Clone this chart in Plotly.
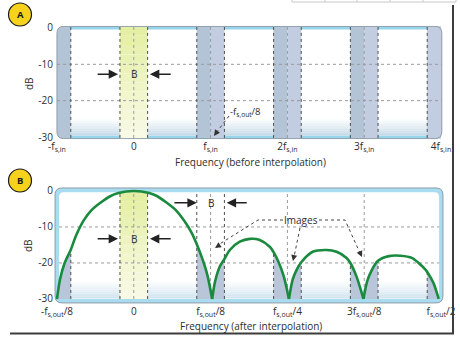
import plotly.graph_objects as go

W, H = 460, 339

# ---------------- data ----------------
db_tick_vals = [0, -10, -20, -30]
db_tick_text = ["0", "-10", "-20", "-30"]
freq_tick_vals = [-1, 0, 1, 2, 3, 4]
freq_in_labels = ["-f<sub>s,in</sub>", "0", "f<sub>s,in</sub>", "2f<sub>s,in</sub>",
                  "3f<sub>s,in</sub>", "4f<sub>s,in</sub>"]
freq_out_labels = ["-f<sub>s,out</sub>/8", "0", "f<sub>s,out</sub>/8", "f<sub>s,out</sub>/4",
                   "3f<sub>s,out</sub>/8", "f<sub>s,out</sub>/2"]
signal_center = 0
image_centers = [-1, 1, 2, 3, 4]
half_bw = 0.18

main_x = [-1.0, -0.96, -0.9, -0.82, -0.75, -0.65, -0.55, -0.43, -0.3, -0.2, -0.1, 0.0,
          0.1, 0.2, 0.3, 0.43, 0.55, 0.65, 0.75, 0.82, 0.9, 0.96, 1.02]
main_db = [-30, -24.5, -20.0, -16.3, -12.3, -8.1, -5.3, -3.2, -1.4, -0.6, -0.15, 0.0,
           -0.15, -0.6, -1.4, -3.3, -5.4, -8.1, -11.5, -14.8, -19.3, -23.5, -30]
side1_x = [1.02, 1.06, 1.12, 1.18, 1.25, 1.38, 1.51, 1.64, 1.77, 1.82, 1.88, 1.95, 2.02]
side1_db = [-30, -25, -21, -18.9, -16.4, -14.1, -13.3, -13.6, -15.5, -17.0, -19.5, -23.5, -30]
side2_x = [2.02, 2.07, 2.12, 2.18, 2.33, 2.51, 2.64, 2.77, 2.82, 2.9, 2.99]
side2_db = [-30, -24.5, -21.9, -19.8, -16.9, -16.4, -16.9, -18.6, -20.0, -23.8, -30]
side3_x = [2.99, 3.04, 3.1, 3.18, 3.32, 3.47, 3.62, 3.8, 3.82, 3.9, 3.97]
side3_db = [-30, -25, -21.9, -19.4, -18.1, -18.0, -18.6, -21.9, -22.5, -25.5, -30]

lobes = [(main_x, main_db), (side1_x, side1_db), (side2_x, side2_db), (side3_x, side3_db)]

# ---------------- helpers ----------------
FONT = "Open Sans"
TXT = "#2d2d2d"


def px(x):
    return x / W


def py(y):
    return 1 - y / H


def blend(c1, c2, t):
    a = [int(c1[i:i + 2], 16) for i in (1, 3, 5)]
    b = [int(c2[i:i + 2], 16) for i in (1, 3, 5)]
    return "#%02x%02x%02x" % tuple(round(a[k] + (b[k] - a[k]) * t) for k in range(3))


def rpath(x0, y0, x1, y1, rx, ry):
    return (f"M {x0 + rx},{y0} L {x1 - rx},{y0} Q {x1},{y0} {x1},{y0 + ry} "
            f"L {x1},{y1 - ry} Q {x1},{y1} {x1 - rx},{y1} L {x0 + rx},{y1} "
            f"Q {x0},{y1} {x0},{y1 - ry} L {x0},{y0 + ry} Q {x0},{y0} {x0 + rx},{y0} Z")


shapes = []
annotations = []


def add_rect(xr, yr, x0, x1, y0, y1, fill):
    shapes.append(dict(type="rect", xref=xr, yref=yr, x0=x0, x1=x1, y0=y0, y1=y1,
                       fillcolor=fill, line=dict(width=0), layer="below"))


def add_line(xr, yr, x0, y0, x1, y1, color, dash="dot", width=1, layer="below"):
    shapes.append(dict(type="line", xref=xr, yref=yr, x0=x0, y0=y0, x1=x1, y1=y1,
                       line=dict(color=color, width=width, dash=dash), layer=layer))


def add_path(xr, yr, path, fill=None, line_color=None, width=1, dash="solid", layer="below"):
    d = dict(type="path", xref=xr, yref=yr, path=path, layer=layer)
    d["fillcolor"] = fill if fill else "rgba(0,0,0,0)"
    d["line"] = dict(color=line_color if line_color else "rgba(0,0,0,0)", width=width if line_color else 0, dash=dash)
    shapes.append(d)


def gradient(xr, yr, x0, x1, ytop, ybot, ctop, cbot, n=10):
    for i in range(n):
        ya = ytop + (ybot - ytop) * i / n
        yb = ytop + (ybot - ytop) * (i + 1) / n
        add_rect(xr, yr, x0, x1, yb, ya, blend(ctop, cbot, (i + 0.5) / n))


def text(x, y, s, size=10, angle=0, xanchor="center", color=TXT):
    annotations.append(dict(xref="paper", yref="paper", x=px(x), y=py(y), text=s, showarrow=False,
                            textangle=angle, xanchor=xanchor, yanchor="middle",
                            font=dict(family=FONT, size=size, color=color)))


def data_arrow(xr, yr, x, y, tx, ty):
    annotations.append(dict(xref=xr, yref=yr, axref=xr, ayref=yr, x=x, y=y, ax=tx, ay=ty,
                            text="", showarrow=True, arrowhead=2, arrowsize=1.25,
                            arrowwidth=1.5, arrowcolor="#222"))


def head(x, y, ax, ay):
    annotations.append(dict(xref="paper", yref="paper", x=px(x), y=py(y), ax=ax, ay=ay,
                            text="", showarrow=True, arrowhead=2, arrowsize=1.1,
                            arrowwidth=1.1, arrowcolor="#333"))


def dotted_paper(points, color="#444"):
    p = "M " + " L ".join(f"{px(a)},{py(b)}" for a, b in points)
    shapes.append(dict(type="path", xref="paper", yref="paper", path=p,
                       line=dict(color=color, width=1, dash="dot"), layer="above"))


BAND_L = "#b4c4d7"
BAND_R = "#c3cde1"
EDGE = "#4d4d4d"
GRID = "#9a9a9a"
OUTLINE = "#8e9caa"
CYAN = "#96d5ea"
YEL_T = "#e3eea0"
YEL_B = "#f9fbe8"

X_DOM = [53.9 / W, 444.1 / W]
XR = [-1.04, 4.04]
YA_DOM = [0.5894, 0.9239]
YA_R = [-30.6, 0.6]
YB_DOM = [0.1032, 0.4484]
YB_R = [-31.4, 1.1]

# ---------------- panel A decorations ----------------
A_top, A_bot = 0.45, -30.45
add_path("x", "y", rpath(-1.0, A_bot, 4.01, A_top, 0.09, 1.9), fill=BAND_L)
add_rect("x", "y", -0.82, 3.82, A_bot, A_top, CYAN)
add_rect("x", "y", -0.82, 3.82, -29.6, -0.4, "#ffffff")
gradient("x", "y", -0.82, 3.82, -25.0, -29.6, "#ffffff", "#c3d8e6", 10)
for c in image_centers[1:4]:
    add_rect("x", "y", c - half_bw, c, A_bot, A_top, BAND_L)
    add_rect("x", "y", c, c + half_bw, A_bot, A_top, BAND_R)
add_rect("x", "y", 4 - half_bw, 4.0, A_bot, A_top, BAND_R)
gradient("x", "y", signal_center - half_bw, signal_center + half_bw, A_top, A_bot, YEL_T, YEL_B, 12)
for g in (-10, -20):
    add_line("x", "y", -1.0, g, 4.01, g, GRID)
for c in [0, 1, 2, 3]:
    add_line("x", "y", c, A_bot + 0.2, c, A_top - 0.2, GRID)
for e in [-0.82, -0.18, 0.18, 0.82, 1.18, 1.82, 2.18, 2.82, 3.18, 3.82]:
    add_line("x", "y", e, A_bot + 0.2, e, A_top - 0.2, EDGE)
add_path("x", "y", rpath(-1.0, A_bot, 4.01, A_top, 0.09, 1.9), line_color=OUTLINE, width=1)

# ---------------- panel B decorations ----------------
B_top, B_bot = 0.83, -31.1
Bi_top, Bi_bot = -0.35, -30.0
Bi_l, Bi_r = -0.973, 3.975
add_path("x2", "y2", rpath(-1.025, B_bot, 4.025, B_top, 0.09, 1.95), fill="#a9dcef")
add_path("x2", "y2", rpath(Bi_l, Bi_bot, Bi_r, Bi_top, 0.06, 1.3), fill="#ffffff")
gradient("x2", "y2", Bi_l + 0.02, Bi_r - 0.02, -25.0, -29.9, "#ffffff", "#d0e3ee", 10)
gradient("x2", "y2", signal_center - half_bw, signal_center + half_bw, Bi_top, Bi_bot, YEL_T, YEL_B, 12)
for g in (-10, -20):
    add_line("x2", "y2", Bi_l, g, Bi_r, g, GRID)
for c in [0, 1, 2, 3]:
    add_line("x2", "y2", c, Bi_bot, c, Bi_top, GRID)

pts = {}
for lx, ly in lobes:
    for a, b in zip(lx, ly):
        pts[a] = min(b, pts.get(a, 0))
xs_sorted = sorted(pts)
for c in image_centers:
    lo, hi = max(c - half_bw, -1.0), min(c + half_bw, 4.0)
    sel = [a for a in xs_sorted if lo - 1e-9 <= a <= hi + 1e-9]
    path = f"M {lo},-30 " + " ".join(f"L {a},{pts[a]}" for a in sel) + f" L {hi},-30 Z"
    if sel[0] > lo + 1e-9:
        path = f"M {lo},-30 L {sel[0]},-30 " + " ".join(f"L {a},{pts[a]}" for a in sel) + f" L {hi},-30 Z"
    add_path("x2", "y2", path, fill="#b9c6da")

for e in [-0.18, 0.18, 0.82, 1.18]:
    add_line("x2", "y2", e, Bi_bot, e, Bi_top, EDGE)
for e in [-0.82, 1.82, 2.18, 2.82, 3.18, 3.82]:
    add_line("x2", "y2", e, Bi_bot, e, pts[e], EDGE)
add_path("x2", "y2", rpath(-1.025, B_bot, 4.025, B_top, 0.09, 1.95), line_color=OUTLINE, width=1)

# ---------------- figure ----------------
fig = go.Figure()
for lx, ly in lobes:
    fig.add_trace(go.Scatter(x=lx, y=ly, mode="lines", xaxis="x2", yaxis="y2",
                             line=dict(color="#1a8a3e", width=2.6, shape="spline", smoothing=0.8),
                             hoverinfo="skip", showlegend=False))
# invisible trace to activate panel A axes
fig.add_trace(go.Scatter(x=[-1, 4], y=[-30, 0], mode="markers", marker=dict(opacity=0),
                         xaxis="x", yaxis="y", hoverinfo="skip", showlegend=False))

# ---------------- annotations ----------------
# Panel A
data_arrow("x", "y", -0.205, -12.7, -0.49, -12.7)
data_arrow("x", "y", 0.21, -12.7, 0.5, -12.7)
annotations.append(dict(xref="x", yref="y", x=0, y=-12.7, text="B", showarrow=False,
                        font=dict(family=FONT, size=10, color=TXT)))
text(228, 112, "-f<sub>s,out</sub>/8", size=9.5, xanchor="left")
dotted_paper([(229, 116), (216, 133)])
head(214, 136, 3, -4.2)

# Panel B
data_arrow("x2", "y2", -0.205, -13.3, -0.49, -13.3)
data_arrow("x2", "y2", 0.21, -13.3, 0.5, -13.3)
annotations.append(dict(xref="x2", yref="y2", x=0, y=-13.3, text="B", showarrow=False,
                        font=dict(family=FONT, size=10, color=TXT)))
data_arrow("x2", "y2", 0.82, -3.3, 0.51, -3.3)
data_arrow("x2", "y2", 1.21, -3.3, 1.49, -3.3)
annotations.append(dict(xref="x2", yref="y2", x=1.0, y=-3.3, text="B", showarrow=False,
                        font=dict(family=FONT, size=10, color=TXT)))
text(301, 220, "Images", size=10)
dotted_paper([(283, 220), (258, 220), (218, 245)])
head(215, 248, 5, -3.3)
dotted_paper([(300, 228), (294, 257)])
head(293, 261, 1, -5)
dotted_paper([(319, 220), (345, 220), (360, 253)])
head(362, 257, -2.2, -4.8)

# axis titles
text(251, 161.5, "Frequency (before interpolation)", size=10)
text(251, 325.5, "Frequency (after interpolation)", size=10)
text(29, 84, "dB", size=10, angle=-90)
text(28, 246, "dB", size=10, angle=-90)

# panel badges
for cy, lab in [(14.5, "A"), (180.5, "B")]:
    shapes.append(dict(type="circle", xref="paper", yref="paper",
                       x0=px(8.5), x1=px(31.5), y0=py(cy + 11.5), y1=py(cy - 11.5),
                       fillcolor="#f6d21c", line=dict(color="#1a1a1a", width=1.2), layer="above"))
    annotations.append(dict(xref="paper", yref="paper", x=px(20), y=py(cy), text=f"<b>{lab}</b>",
                            showarrow=False, xanchor="center", yanchor="middle",
                            font=dict(family=FONT, size=9.5, color="#1a1a1a")))

# frame lines
shapes.append(dict(type="line", xref="paper", yref="paper", x0=px(453), x1=px(453), y0=py(5), y1=py(334),
                   line=dict(color="#3c3c3c", width=2), layer="above"))
shapes.append(dict(type="line", xref="paper", yref="paper", x0=px(10), x1=px(454), y0=py(333.5), y1=py(333.5),
                   line=dict(color="#3c3c3c", width=2), layer="above"))
shapes.append(dict(type="line", xref="paper", yref="paper", x0=px(292), x1=px(456), y0=py(2), y1=py(2),
                   line=dict(color="#c8c8c8", width=1), layer="above"))
for vx in [292, 325, 357, 390, 423, 456]:
    shapes.append(dict(type="line", xref="paper", yref="paper", x0=px(vx), x1=px(vx), y0=py(0), y1=py(2),
                       line=dict(color="#c8c8c8", width=1), layer="above"))

axis_common = dict(showgrid=False, zeroline=False, showline=False, ticks="", automargin=False,
                   fixedrange=True, tickfont=dict(family=FONT, size=10, color=TXT))

fig.update_layout(
    width=W, height=H, margin=dict(l=0, r=0, t=0, b=0),
    paper_bgcolor="white", plot_bgcolor="rgba(0,0,0,0)", showlegend=False,
    font=dict(family=FONT, size=10, color=TXT),
    xaxis=dict(domain=X_DOM, range=XR, anchor="y", tickmode="array", tickvals=freq_tick_vals,
               ticktext=freq_in_labels, tickangle=0, **axis_common),
    yaxis=dict(domain=YA_DOM, range=YA_R, anchor="x", tickmode="array", tickvals=db_tick_vals,
               ticktext=db_tick_text, **axis_common),
    xaxis2=dict(domain=X_DOM, range=XR, anchor="y2", tickmode="array", tickvals=freq_tick_vals,
                ticktext=freq_out_labels, tickangle=0, **axis_common),
    yaxis2=dict(domain=YB_DOM, range=YB_R, anchor="x2", tickmode="array", tickvals=db_tick_vals,
                ticktext=db_tick_text, **axis_common),
    shapes=shapes, annotations=annotations,
)

fig.write_html("out.html")
